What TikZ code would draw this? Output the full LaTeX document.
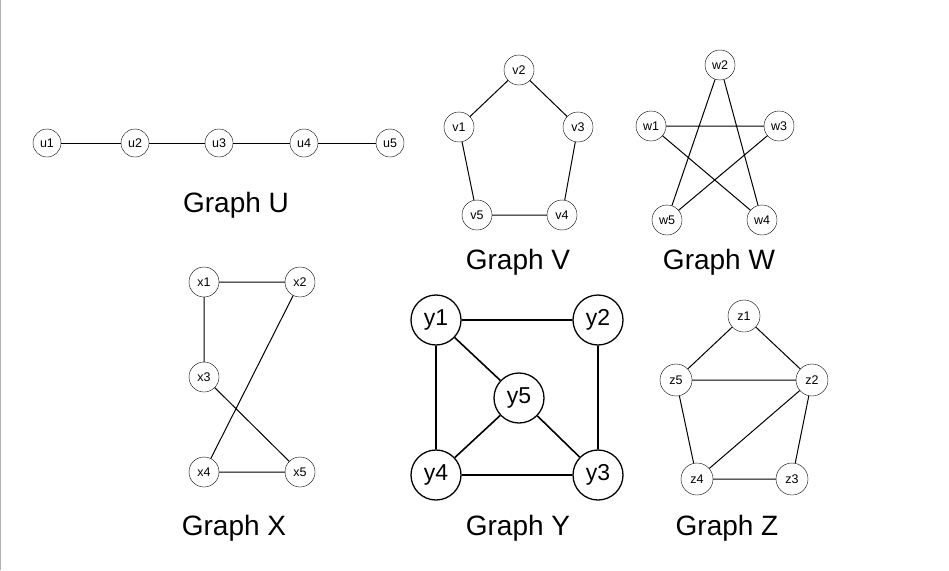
\documentclass[tikz,border=0pt]{standalone}
\usepackage{fontspec}
\setmainfont{Liberation Sans}
\begin{document}
\begin{tikzpicture}[x=1pt,y=-1pt,
  v/.style={circle,draw,fill=white,minimum size=28pt,inner sep=0pt,font=\fontsize{12.5}{12.5}\selectfont},
  big/.style={circle,draw,line width=1.3pt,fill=white,minimum size=50pt,inner sep=0pt,font=\fontsize{23}{23}\selectfont},
  e/.style={line width=1pt},
  eb/.style={line width=1.6pt},
  lab/.style={font=\fontsize{28}{28}\selectfont}]
\useasboundingbox (0,0) rectangle (949,570);
\draw[gray!60] (0.5,0) -- (0.5,570);
% U
\node[v] (u1) at (47,143) {u1};
\node[v] (u2) at (135,143) {u2};
\node[v] (u3) at (219,143) {u3};
\node[v] (u4) at (304,143) {u4};
\node[v] (u5) at (390,143) {u5};
\draw[e] (u1)--(u2) (u2)--(u3) (u3)--(u4) (u4)--(u5);
\node[lab] (lu) at (236,205) {Graph U};
% V
\node[v,minimum size=30pt] (v2) at (519,70) {v2};
\node[v,minimum size=30pt] (v1) at (459,127) {v1};
\node[v,minimum size=30pt] (v3) at (578,127) {v3};
\node[v,minimum size=30pt] (v5) at (477,215) {v5};
\node[v,minimum size=30pt] (v4) at (562,215) {v4};
\draw[e] (v1)--(v2) (v2)--(v3) (v3)--(v4) (v4)--(v5) (v5)--(v1);
\node[lab] (lv) at (518,262) {Graph V};
% W
\node[v,minimum size=30pt] (w2) at (720,65) {w2};
\node[v,minimum size=30pt] (w1) at (651,126) {w1};
\node[v,minimum size=30pt] (w3) at (779,126) {w3};
\node[v,minimum size=30pt] (w5) at (667,220) {w5};
\node[v,minimum size=30pt] (w4) at (762,220) {w4};
\draw[e] (w1)--(w3) (w1)--(w4) (w2)--(w5) (w2)--(w4) (w3)--(w5);
\node[lab] (lw) at (719,262) {Graph W};
% X
\node[v,minimum size=30pt] (x1) at (204,282) {x1};
\node[v,minimum size=30pt] (x2) at (300,282) {x2};
\node[v,minimum size=30pt] (x3) at (204,377) {x3};
\node[v,minimum size=30pt] (x4) at (204,472) {x4};
\node[v,minimum size=30pt] (x5) at (300,472) {x5};
\draw[e] (x1)--(x2) (x1)--(x3) (x3)--(x5) (x4)--(x5) (x4)--(x2);
\node[lab] (lx) at (234,528) {Graph X};
% Y
\node[big] (y1) at (436,320) {y1};
\node[big] (y2) at (598,320) {y2};
\node[big] (y5) at (519,398) {y5};
\node[big] (y4) at (436,475) {y4};
\node[big] (y3) at (598,475) {y3};
\draw[eb] (y1)--(y2) (y2)--(y3) (y3)--(y4) (y4)--(y1) (y1)--(y5) (y5)--(y3) (y5)--(y4);
\node[lab] (ly) at (518,528) {Graph Y};
% Z
\node[v,minimum size=32pt] (z1) at (744,316) {z1};
\node[v,minimum size=32pt] (z5) at (676,380) {z5};
\node[v,minimum size=32pt] (z2) at (812,380) {z2};
\node[v,minimum size=32pt] (z4) at (697,479) {z4};
\node[v,minimum size=32pt] (z3) at (792,479) {z3};
\draw[e] (z1)--(z5) (z1)--(z2) (z5)--(z2) (z5)--(z4) (z4)--(z2) (z2)--(z3) (z4)--(z3);
\node[lab] (lz) at (727,528) {Graph Z};
\end{tikzpicture}
\end{document}
